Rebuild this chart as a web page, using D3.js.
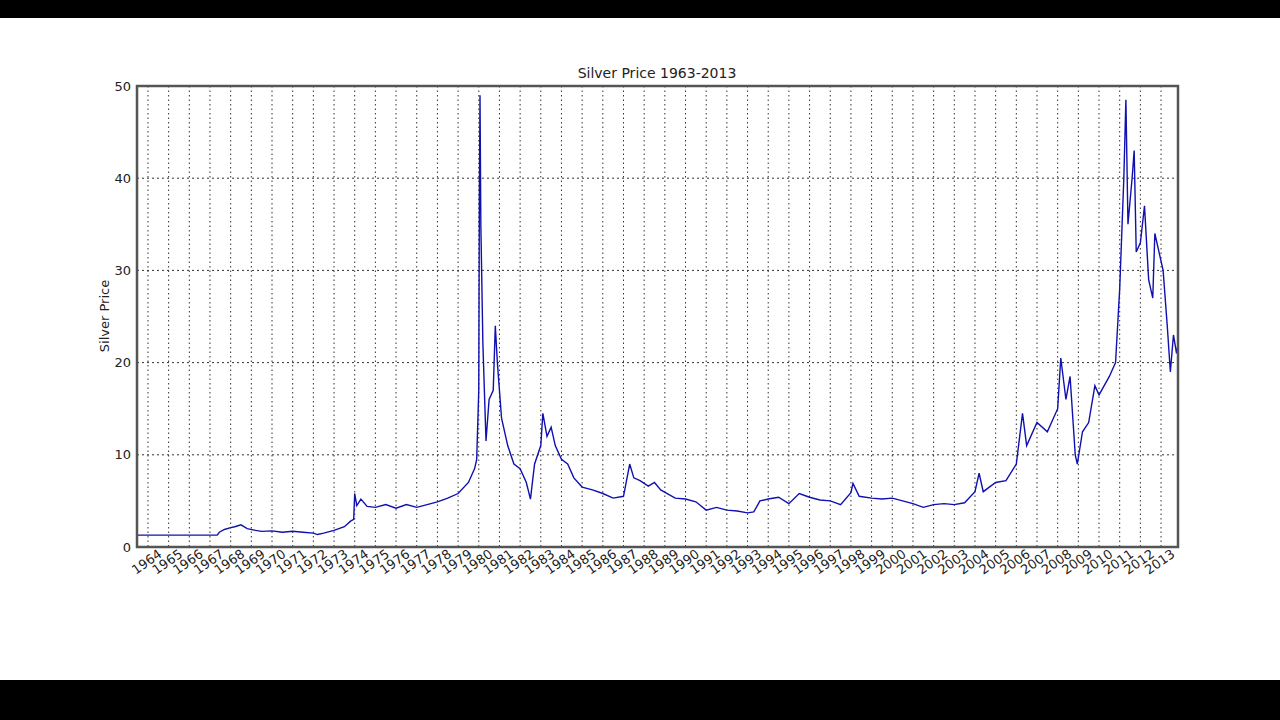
<!DOCTYPE html><html><head><meta charset="utf-8">
<script src="https://cdn.jsdelivr.net/npm/d3@7"></script>
<style>body{margin:0;background:#fff}svg{display:block}</style></head><body>
<svg id="c" width="1280" height="720"></svg>
<script>
const years=d3.range(1964,2014);
const yTicks=[0,10,20,30,40,50];
const dates=[1963.5,1967.35,1967.45,1967.7,1968.0,1968.2,1968.5,1968.8,1969.2,1969.5,1970.0,1970.5,1971.0,1971.5,1972.0,1972.2,1972.5,1973.0,1973.5,1973.8,1973.95,1974.0,1974.1,1974.3,1974.6,1975.0,1975.5,1976.0,1976.5,1977,1977.5,1978,1978.5,1979,1979.5,1979.8,1979.9,1980.0,1980.03,1980.06,1980.1,1980.2,1980.3,1980.35,1980.5,1980.7,1980.8,1980.9,1981.1,1981.4,1981.7,1982,1982.3,1982.5,1982.7,1983.0,1983.1,1983.3,1983.5,1983.7,1984,1984.3,1984.6,1985,1985.5,1986,1986.5,1987,1987.3,1987.5,1987.8,1988.2,1988.5,1988.8,1989.5,1990,1990.5,1991,1991.5,1992,1992.5,1993.0,1993.3,1993.6,1994,1994.5,1995,1995.5,1996,1996.5,1997,1997.5,1998,1998.1,1998.4,1999,1999.5,2000,2000.5,2001,2001.5,2002,2002.5,2003,2003.5,2004,2004.2,2004.4,2005,2005.5,2006,2006.3,2006.5,2007,2007.5,2008,2008.15,2008.4,2008.6,2008.85,2008.95,2009.2,2009.5,2009.8,2010,2010.5,2010.8,2011,2011.2,2011.3,2011.4,2011.6,2011.7,2011.8,2012,2012.2,2012.4,2012.6,2012.7,2012.9,2013.1,2013.3,2013.45,2013.6,2013.75,2013.82];
const prices=[1.29,1.29,1.6,1.9,2.1,2.2,2.4,2.0,1.8,1.7,1.75,1.6,1.7,1.6,1.5,1.35,1.5,1.8,2.2,2.8,3.0,5.8,4.5,5.2,4.4,4.3,4.6,4.2,4.6,4.3,4.6,4.9,5.3,5.8,7.0,8.5,9.5,17,38,49,35,22,15,11.5,16,17,24,20,14,11,9,8.5,7.0,5.2,9,11,14.5,12,13,11,9.5,9,7.5,6.5,6.2,5.8,5.3,5.5,9.0,7.5,7.2,6.6,7.0,6.2,5.3,5.2,4.9,4.0,4.3,4.0,3.9,3.7,3.8,5.0,5.2,5.4,4.7,5.8,5.4,5.1,5.0,4.6,5.9,6.9,5.5,5.3,5.2,5.3,5.0,4.7,4.3,4.6,4.7,4.6,4.8,6.0,8.0,6.0,7.0,7.2,9.0,14.5,11,13.5,12.5,15,20.5,16,18.5,10,9,12.5,13.5,17.5,16.5,18.5,20,28,40,48.5,35,40,43,32,33,37,29,27,34,32,30,24,19,23,21,22];
const svg=d3.select("#c");
svg.append("rect").attr("width",1280).attr("height",18).attr("fill","#000");
svg.append("rect").attr("y",680).attr("width",1280).attr("height",40).attr("fill","#000");
const L=137,R=1178,T=86,B=547;
const x=d3.scaleLinear().domain([1963.47,2013.82]).range([L,R]);
const y=d3.scaleLinear().domain([0,50]).range([B,T]);
const g=svg.append("g");
g.selectAll(".vg").data(years).join("line").attr("x1",d=>x(d)).attr("x2",d=>x(d)).attr("y1",T).attr("y2",B).attr("stroke","#333").attr("stroke-dasharray","1.5,3").attr("stroke-width",1);
g.selectAll(".hg").data(yTicks.slice(1,-1)).join("line").attr("x1",L).attr("x2",R).attr("y1",d=>y(d)).attr("y2",d=>y(d)).attr("stroke","#333").attr("stroke-dasharray","2,3").attr("stroke-width",1);
const line=d3.line().x((d,i)=>x(dates[i])).y(d=>y(d));
g.append("path").attr("d",line(prices)).attr("fill","none").attr("stroke","#1010b0").attr("stroke-width",1.4);
g.append("rect").attr("x",L).attr("y",T).attr("width",R-L).attr("height",B-T).attr("fill","none").attr("stroke","#555").attr("stroke-width",2.5);
const xa=svg.append("g").attr("transform",`translate(0,${B})`).call(d3.axisBottom(x).tickValues(years).tickFormat(d3.format("d")).tickSize(0).tickPadding(4));
xa.select(".domain").remove();
xa.selectAll("text").attr("font-family","DejaVu Sans").attr("font-size",13).attr("fill","#222").attr("text-anchor","end").attr("transform","rotate(-35)").attr("dx","0.5em").attr("dy","0.9em");
const ya=svg.append("g").attr("transform",`translate(${L},0)`).call(d3.axisLeft(y).tickValues(yTicks).tickSize(0).tickPadding(6));
ya.select(".domain").remove();
ya.selectAll("text").attr("font-family","DejaVu Sans").attr("font-size",13).attr("fill","#222");
svg.append("text").attr("x",657).attr("y",78).attr("text-anchor","middle").attr("font-family","DejaVu Sans").attr("font-size",14).attr("fill","#222").text("Silver Price 1963-2013");
svg.append("text").attr("transform","translate(109,316) rotate(-90)").attr("text-anchor","middle").attr("font-family","DejaVu Sans").attr("font-size",13).attr("fill","#222").text("Silver Price");
</script></body></html>
